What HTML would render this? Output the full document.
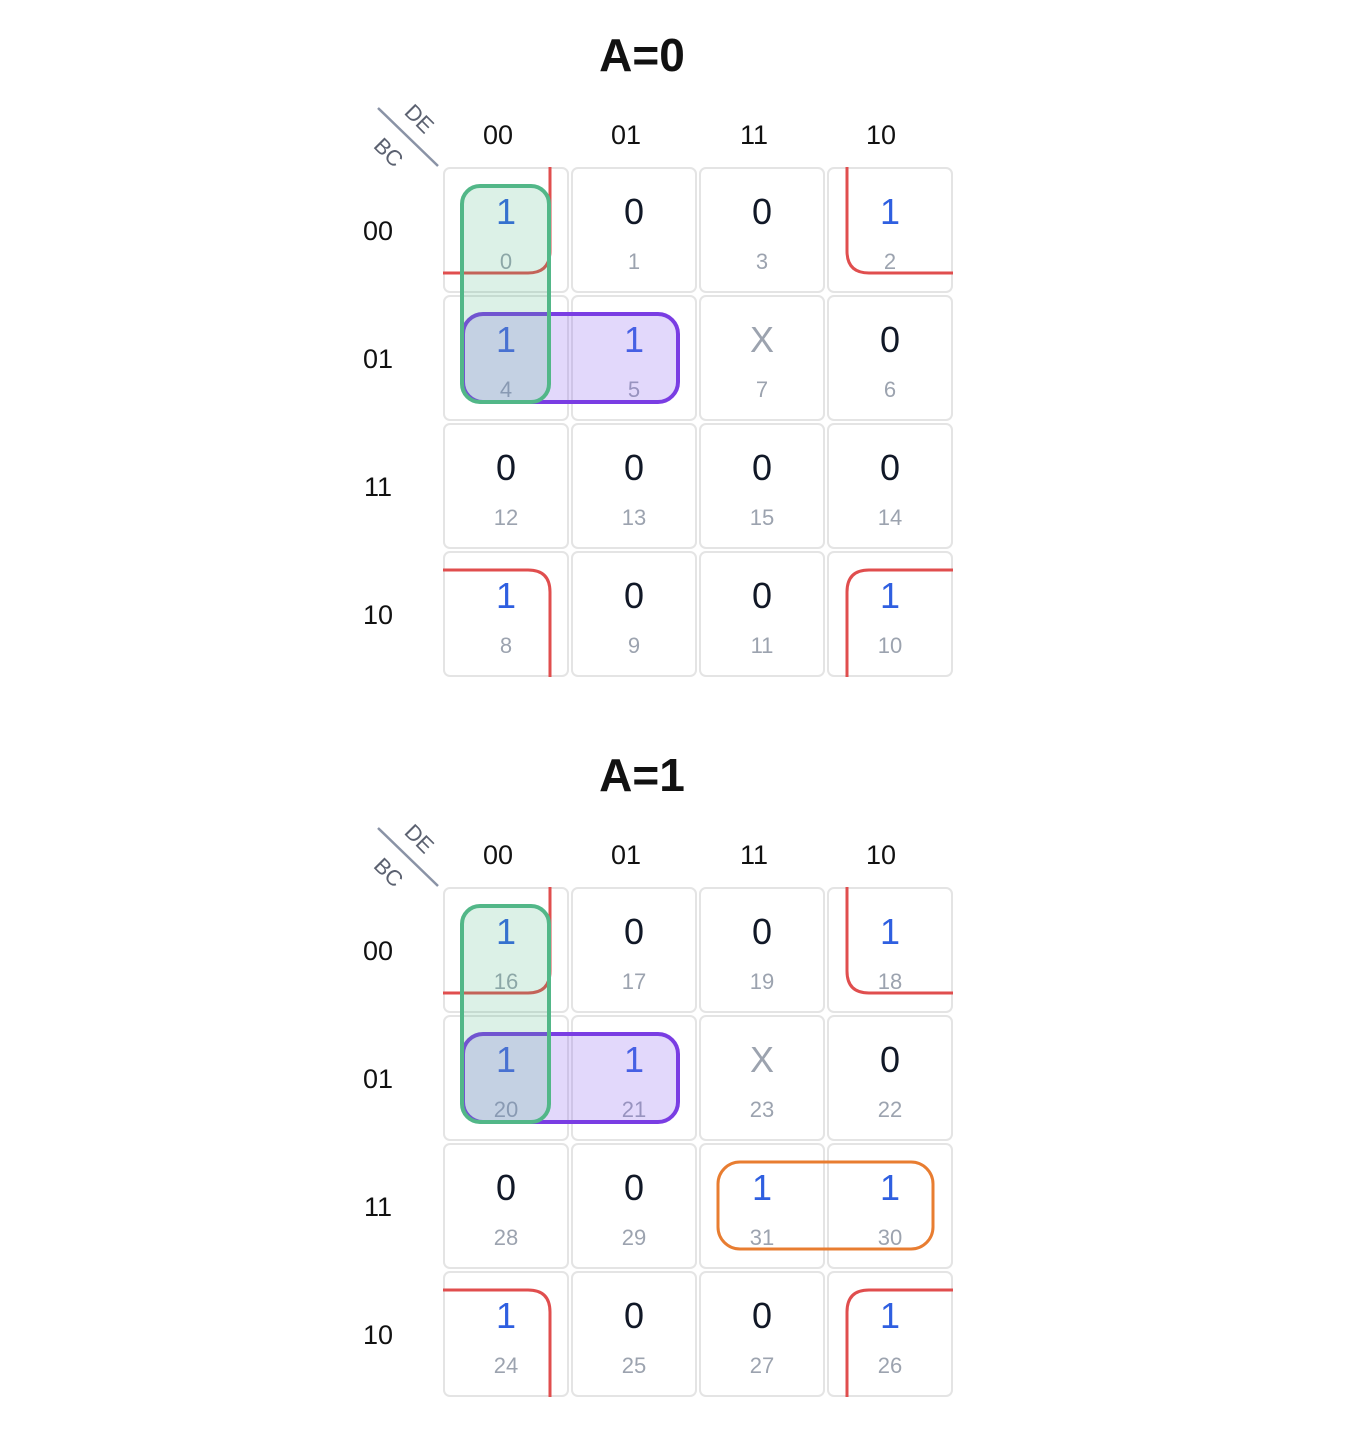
<!DOCTYPE html>
<html><head><meta charset="utf-8"><style>
html,body{margin:0;padding:0;background:#fff;}
svg{display:block;font-family:"Liberation Sans","DejaVu Sans",sans-serif;}
</style></head><body>
<svg width="1358" height="1440" viewBox="0 0 1358 1440" xmlns="http://www.w3.org/2000/svg">
<defs>
<g id="grid">
  <g fill="#fff" stroke="#e4e4e4" stroke-width="2">
    <rect x="444" y="168" width="124" height="124" rx="6"/><rect x="572" y="168" width="124" height="124" rx="6"/><rect x="700" y="168" width="124" height="124" rx="6"/><rect x="828" y="168" width="124" height="124" rx="6"/>
    <rect x="444" y="296" width="124" height="124" rx="6"/><rect x="572" y="296" width="124" height="124" rx="6"/><rect x="700" y="296" width="124" height="124" rx="6"/><rect x="828" y="296" width="124" height="124" rx="6"/>
    <rect x="444" y="424" width="124" height="124" rx="6"/><rect x="572" y="424" width="124" height="124" rx="6"/><rect x="700" y="424" width="124" height="124" rx="6"/><rect x="828" y="424" width="124" height="124" rx="6"/>
    <rect x="444" y="552" width="124" height="124" rx="6"/><rect x="572" y="552" width="124" height="124" rx="6"/><rect x="700" y="552" width="124" height="124" rx="6"/><rect x="828" y="552" width="124" height="124" rx="6"/>
  </g>
  <line x1="378" y1="108" x2="438" y2="166" stroke="#8a93a6" stroke-width="2.5"/>
  <text x="414" y="124" font-size="22" fill="#5b6170" text-anchor="middle" transform="rotate(45 414 124)">DE</text>
  <text x="389" y="160" font-size="22" fill="#5b6170" text-anchor="middle" transform="rotate(45 389 152)">BC</text>
  <g font-size="27" fill="#111" text-anchor="middle">
    <text x="498" y="144">00</text><text x="626" y="144">01</text><text x="754" y="144">11</text><text x="881" y="144">10</text>
    <text x="378" y="240">00</text><text x="378" y="368">01</text><text x="378" y="496">11</text><text x="378" y="624">10</text>
  </g>
  <g fill="none" stroke="#e04e4e" stroke-width="3">
    <path d="M443 273 H528 Q550 273 550 251 V167"/>
    <path d="M847 167 V251 Q847 273 869 273 H953"/>
    <path d="M443 570 H528 Q550 570 550 592 V677"/>
    <path d="M847 677 V592 Q847 570 869 570 H953"/>
  </g>
</g>
</defs>

<text x="642" y="71" font-size="46" font-weight="bold" text-anchor="middle" fill="#111">A=0</text>
<use href="#grid"/>
<g text-anchor="middle">
 <g font-size="36">
  <text x="506" y="224" fill="#2f5fe0">1</text><text x="634" y="224" fill="#111827">0</text><text x="762" y="224" fill="#111827">0</text><text x="890" y="224" fill="#2f5fe0">1</text>
  <text x="506" y="352" fill="#2f5fe0">1</text><text x="634" y="352" fill="#2f5fe0">1</text><text x="762" y="352" fill="#9ca3af">X</text><text x="890" y="352" fill="#111827">0</text>
  <text x="506" y="480" fill="#111827">0</text><text x="634" y="480" fill="#111827">0</text><text x="762" y="480" fill="#111827">0</text><text x="890" y="480" fill="#111827">0</text>
  <text x="506" y="608" fill="#2f5fe0">1</text><text x="634" y="608" fill="#111827">0</text><text x="762" y="608" fill="#111827">0</text><text x="890" y="608" fill="#2f5fe0">1</text>
 </g>
 <g font-size="22" fill="#9ca3af">
  <text x="506" y="269">0</text><text x="634" y="269">1</text><text x="762" y="269">3</text><text x="890" y="269">2</text>
  <text x="506" y="397">4</text><text x="634" y="397">5</text><text x="762" y="397">7</text><text x="890" y="397">6</text>
  <text x="506" y="525">12</text><text x="634" y="525">13</text><text x="762" y="525">15</text><text x="890" y="525">14</text>
  <text x="506" y="653">8</text><text x="634" y="653">9</text><text x="762" y="653">11</text><text x="890" y="653">10</text>
 </g>
</g>
<rect x="463" y="314" width="215" height="88" rx="20" fill="rgba(140,100,240,0.25)" stroke="#7a3de3" stroke-width="4"/>
<rect x="462" y="186" width="87" height="216" rx="18" fill="rgba(82,183,136,0.2)" stroke="#52b788" stroke-width="4"/>

<text x="642" y="791" font-size="46" font-weight="bold" text-anchor="middle" fill="#111">A=1</text>
<use href="#grid" y="720"/>
<g text-anchor="middle">
 <g font-size="36">
  <text x="506" y="944" fill="#2f5fe0">1</text><text x="634" y="944" fill="#111827">0</text><text x="762" y="944" fill="#111827">0</text><text x="890" y="944" fill="#2f5fe0">1</text>
  <text x="506" y="1072" fill="#2f5fe0">1</text><text x="634" y="1072" fill="#2f5fe0">1</text><text x="762" y="1072" fill="#9ca3af">X</text><text x="890" y="1072" fill="#111827">0</text>
  <text x="506" y="1200" fill="#111827">0</text><text x="634" y="1200" fill="#111827">0</text><text x="762" y="1200" fill="#2f5fe0">1</text><text x="890" y="1200" fill="#2f5fe0">1</text>
  <text x="506" y="1328" fill="#2f5fe0">1</text><text x="634" y="1328" fill="#111827">0</text><text x="762" y="1328" fill="#111827">0</text><text x="890" y="1328" fill="#2f5fe0">1</text>
 </g>
 <g font-size="22" fill="#9ca3af">
  <text x="506" y="989">16</text><text x="634" y="989">17</text><text x="762" y="989">19</text><text x="890" y="989">18</text>
  <text x="506" y="1117">20</text><text x="634" y="1117">21</text><text x="762" y="1117">23</text><text x="890" y="1117">22</text>
  <text x="506" y="1245">28</text><text x="634" y="1245">29</text><text x="762" y="1245">31</text><text x="890" y="1245">30</text>
  <text x="506" y="1373">24</text><text x="634" y="1373">25</text><text x="762" y="1373">27</text><text x="890" y="1373">26</text>
 </g>
</g>
<rect x="463" y="1034" width="215" height="88" rx="20" fill="rgba(140,100,240,0.25)" stroke="#7a3de3" stroke-width="4"/>
<rect x="462" y="906" width="87" height="216" rx="18" fill="rgba(82,183,136,0.2)" stroke="#52b788" stroke-width="4"/>
<rect x="718" y="1162" width="215" height="87" rx="22" fill="none" stroke="#e87d31" stroke-width="3"/>
</svg>
</body></html>
